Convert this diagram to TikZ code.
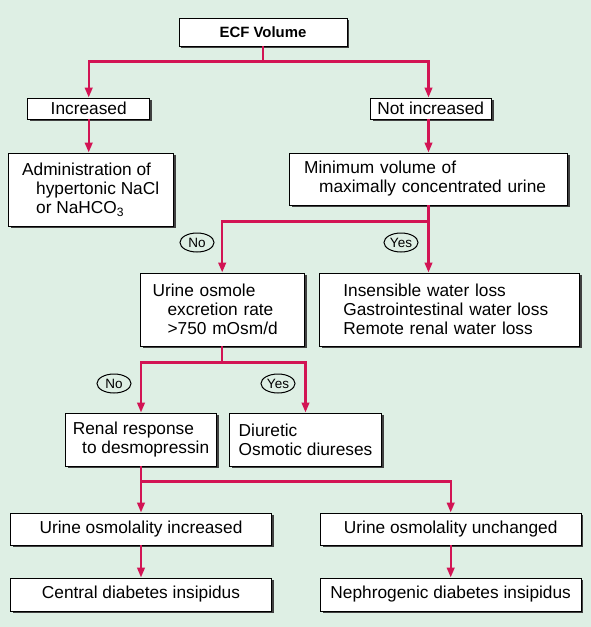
\documentclass[tikz,border=0pt]{standalone}
\usepackage{fontspec}
\setmainfont{Liberation Sans}
\usetikzlibrary{arrows.meta,shapes.geometric,shadows}
\definecolor{bgmint}{RGB}{222,239,228}
\definecolor{linkred}{RGB}{210,20,84}
\tikzset{box/.style={draw,fill=white,line width=.9pt,inner sep=0pt,align=left,drop shadow={shadow xshift=2.4pt,shadow yshift=-2.4pt,fill=black!75,opacity=1}},
answer/.style={draw,ellipse,line width=1pt,inner sep=0pt,minimum width=34pt,minimum height=19pt,font=\fontsize{13.5}{15}\selectfont},
link/.style={draw=linkred,line width=2.4pt,-{Triangle[length=10pt,width=7.5pt]}},
trunk/.style={draw=linkred,line width=2.4pt}}

\begin{document}
\begin{tikzpicture}[x=1pt,y=-1pt,font=\fontsize{17.3}{19}\selectfont]
\fill[bgmint](0,0)rectangle(591,627);\useasboundingbox(0,0)rectangle(591,627);
% boxes
\node[box,minimum width=168pt,minimum height=28pt,font=\fontsize{14.9}{17}\selectfont\bfseries](ecf)at(263,32){ECF Volume};
\node[box,minimum width=122pt,minimum height=21pt](inc)at(88.7,108.5){Increased};
\node[box,minimum width=121pt,minimum height=21pt](notinc)at(430.7,108.5){Not increased};
\node[box,minimum width=165pt,minimum height=73pt](admin)at(90.7,189.5){Administration of\\\hspace{14pt}hypertonic NaCl\\\hspace{14pt}or NaHCO\textsubscript{3}};
\node[box,minimum height=52pt,text width=248.6pt,inner xsep=15pt](minvol)at(428.5,179){Minimum volume of\\\hspace{15pt}maximally concentrated urine};
\node[box,minimum height=73pt,text width=139.2pt,inner xsep=12.4pt](osm)at(222.2,309.5){Urine osmole\\\hspace{15pt}excretion rate\\\hspace{15pt}>750 mOsm/d};
\node[box,minimum height=73pt,text width=212.6pt,inner xsep=23.7pt](insens)at(449.7,309.5){Insensible water loss\\Gastrointestinal water loss\\Remote renal water loss};
\node[box,minimum width=151.7pt,minimum height=53pt](renal)at(141,439.5){Renal response\\\hspace{9.4pt}to desmopressin};
\node[box,minimum width=151.7pt,minimum height=53pt](diur)at(305.5,439.5){Diuretic\\Osmotic diureses};
\node[box,minimum width=261pt,minimum height=32pt](uinc)at(141,529){Urine osmolality increased};
\node[box,minimum width=260.6pt,minimum height=32pt](uunch)at(450.7,529){Urine osmolality unchanged};
\node[box,minimum width=261pt,minimum height=33pt](central)at(141,594.5){Central diabetes insipidus};
\node[box,minimum width=260.6pt,minimum height=33pt](nephro)at(450.7,594.5){Nephrogenic diabetes insipidus};
% yes/no tags
\node[answer](no1)at(197,242.5){No};\node[answer](yes1)at(401,242.5){Yes};
\node[answer](no2)at(114,383.5){No};\node[answer](yes2)at(278,383.5){Yes};
% connectors
\draw[trunk](ecf.south)--++(0,15)coordinate(ecfsplit);
\draw[link](ecfsplit)-|(inc.north);\draw[link](ecfsplit)-|(minvol.north|-notinc.north);
\draw[link](inc.south)--(inc.south|-admin.north);\draw[link](minvol.north|-notinc.south)--(minvol.north);
\draw[trunk](minvol.south)--++(0,16)coordinate(minsplit);
\draw[link](minsplit)-|(osm.north);\draw[link](minvol.south)--(minvol.south|-insens.north);
\draw[trunk](osm.south)--++(0,16)coordinate(osmsplit);
\draw[link](osmsplit)-|(renal.north);\draw[link](osmsplit)-|(diur.north);
\draw[trunk](renal.south)--++(0,15)coordinate(rensplit);
\draw[link](rensplit)-|(uinc.north);\draw[link](rensplit)-|(uunch.north);
\draw[link](uinc)--(central);\draw[link](uunch)--(nephro);
\end{tikzpicture}
\end{document}
